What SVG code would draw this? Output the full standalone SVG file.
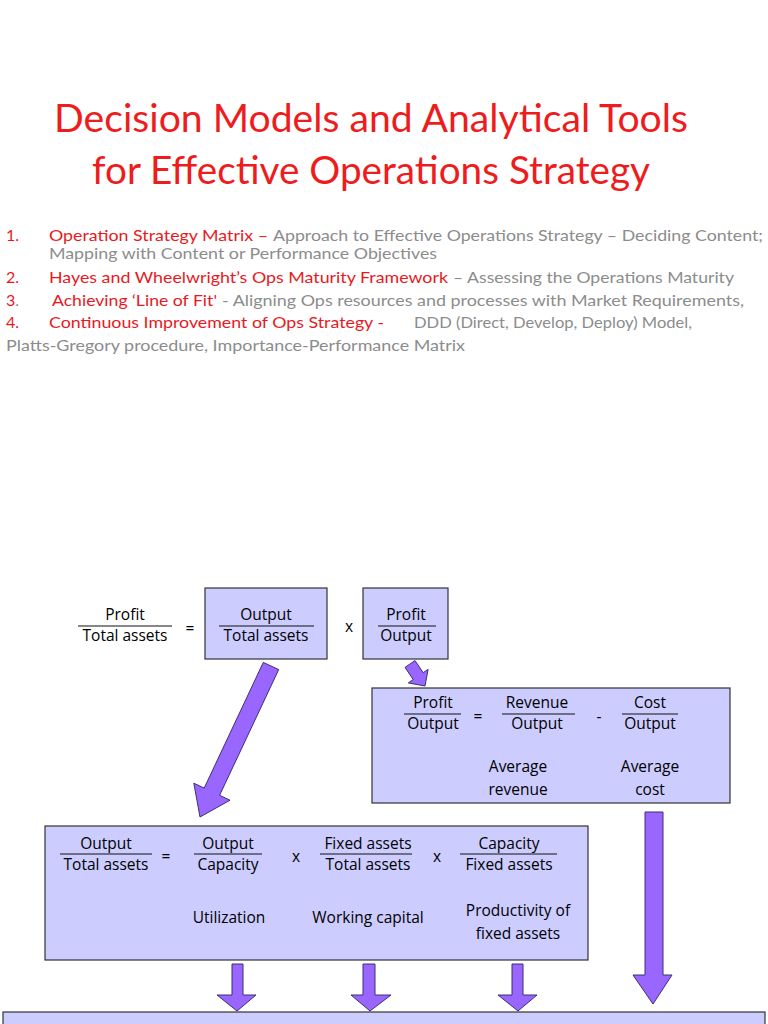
<svg xmlns="http://www.w3.org/2000/svg" width="768" height="1024" viewBox="0 0 768 1024">
<style>
.title{font-family:Lato,"Open Sans","Liberation Sans",sans-serif;font-size:38px;fill:#EE1C1C}
.li{font-family:Lato,"Open Sans","Liberation Sans",sans-serif;font-size:16px}
.red{fill:#E8191E}
.gray{fill:#8C8C8C}
.f{font-family:"Open Sans","DejaVu Sans",sans-serif;font-size:15.5px;fill:#000;text-anchor:middle}
.box{fill:#CCCCFF;stroke:#333;stroke-width:1.2}
.bar{stroke:#111;stroke-width:1.2}
.arrow{fill:#9966FF;stroke:#3d2f73;stroke-width:1;stroke-linejoin:miter}
</style>
<rect width="768" height="1024" fill="#fff"/>

<g id="title">
<text class="title" x="54" y="132" textLength="634" lengthAdjust="spacingAndGlyphs">Decision Models and Analytical Tools</text>
<text class="title" x="92" y="184" textLength="558" lengthAdjust="spacingAndGlyphs">for Effective Operations Strategy</text>
</g>

<g id="list">
<text class="li red" x="6" y="241">1.</text>
<text class="li red" x="49" y="241" textLength="219" lengthAdjust="spacingAndGlyphs">Operation Strategy Matrix –</text>
<text class="li gray" x="273" y="241" textLength="490" lengthAdjust="spacingAndGlyphs">Approach to Effective Operations Strategy – Deciding Content;</text>
<text class="li gray" x="49" y="259" textLength="388" lengthAdjust="spacingAndGlyphs">Mapping with Content or Performance Objectives</text>
<text class="li red" x="6" y="283">2.</text>
<text class="li red" x="49" y="283" textLength="399" lengthAdjust="spacingAndGlyphs">Hayes and Wheelwright’s Ops Maturity Framework</text>
<text class="li gray" x="453" y="283" textLength="281" lengthAdjust="spacingAndGlyphs">– Assessing the Operations Maturity</text>
<text class="li" x="6" y="306"><tspan class="red">3</tspan><tspan class="gray">.</tspan></text>
<text class="li red" x="52" y="306" textLength="165" lengthAdjust="spacingAndGlyphs">Achieving ‘Line of Fit'</text>
<text class="li gray" x="222" y="306" textLength="522" lengthAdjust="spacingAndGlyphs">- Aligning Ops resources and processes with Market Requirements,</text>
<text class="li red" x="6" y="328">4.</text>
<text class="li red" x="49" y="328" textLength="335" lengthAdjust="spacingAndGlyphs">Continuous Improvement of Ops Strategy -</text>
<text class="li gray" x="414" y="328" textLength="278" lengthAdjust="spacingAndGlyphs">DDD (Direct, Develop, Deploy) Model,</text>
<text class="li gray" x="6" y="351" textLength="459" lengthAdjust="spacingAndGlyphs">Platts-Gregory procedure, Importance-Performance Matrix</text>
</g>

<g id="roa">
<text class="f" x="125" y="620">Profit</text>
<line class="bar" x1="78" y1="626" x2="172" y2="626"/>
<text class="f" x="125" y="641">Total assets</text>
<text class="f" x="190" y="634">=</text>
</g>

<g id="box-output-assets">
<rect class="box" x="205" y="588" width="122" height="71"/>
<text class="f" x="266" y="620">Output</text>
<line class="bar" x1="219" y1="626" x2="314" y2="626"/>
<text class="f" x="266" y="641">Total assets</text>
</g>

<text class="f" x="349" y="632">x</text>

<g id="box-profit-output">
<rect class="box" x="363" y="588" width="85" height="71"/>
<text class="f" x="406" y="620">Profit</text>
<line class="bar" x1="378" y1="626" x2="436" y2="626"/>
<text class="f" x="406" y="641">Output</text>
</g>

<g id="box-margin">
<rect class="box" x="372" y="688" width="358" height="115"/>
<text class="f" x="433" y="708">Profit</text>
<line class="bar" x1="404" y1="714" x2="461" y2="714"/>
<text class="f" x="433" y="729">Output</text>
<text class="f" x="478" y="722">=</text>
<text class="f" x="537" y="708">Revenue</text>
<line class="bar" x1="502" y1="714" x2="575" y2="714"/>
<text class="f" x="537" y="729">Output</text>
<text class="f" x="599" y="722">-</text>
<text class="f" x="650" y="708">Cost</text>
<line class="bar" x1="622" y1="714" x2="678" y2="714"/>
<text class="f" x="650" y="729">Output</text>
<text class="f" x="518" y="772">Average</text>
<text class="f" x="518" y="795">revenue</text>
<text class="f" x="650" y="772">Average</text>
<text class="f" x="650" y="795">cost</text>
</g>

<g id="box-asset-turnover">
<rect class="box" x="45" y="826" width="543" height="134"/>
<text class="f" x="106" y="849">Output</text>
<line class="bar" x1="60" y1="854" x2="152" y2="854"/>
<text class="f" x="106" y="870">Total assets</text>
<text class="f" x="166" y="862">=</text>
<text class="f" x="228" y="849">Output</text>
<line class="bar" x1="194" y1="854" x2="262" y2="854"/>
<text class="f" x="228" y="870">Capacity</text>
<text class="f" x="296" y="862">x</text>
<text class="f" x="368" y="849">Fixed assets</text>
<line class="bar" x1="320" y1="854" x2="412" y2="854"/>
<text class="f" x="368" y="870">Total assets</text>
<text class="f" x="437" y="862">x</text>
<text class="f" x="509" y="849">Capacity</text>
<line class="bar" x1="460" y1="854" x2="557" y2="854"/>
<text class="f" x="509" y="870">Fixed assets</text>
<text class="f" x="229" y="923">Utilization</text>
<text class="f" x="368" y="923">Working capital</text>
<text class="f" x="518" y="916">Productivity of</text>
<text class="f" x="518" y="939">fixed assets</text>
</g>

<g id="box-bottom">
<rect class="box" x="3" y="1012" width="762" height="30"/>
</g>

<g id="connectors">
<polygon class="arrow" points="263.3,662.4 278.7,669.6 219.6,795.3 230,800.2 200,817 193.8,783.2 204.2,788.1"/>
<polygon class="arrow" points="405,667.4 415,660.6 423.2,672.7 428.1,669.3 425,686 408.3,682.9 413.2,679.5"/>
<polygon class="arrow" points="645,812 663,812 663,975 672,975 653,1004 633,975 645,975"/>
<polygon class="arrow" points="232,964 243,964 243,995 256,995 237,1011 217,995 232,995"/>
<polygon class="arrow" points="363,964 375,964 375,995 391,995 370,1011 351,995 363,995"/>
<polygon class="arrow" points="512,964 523,964 523,995 537,995 518,1011 498,995 512,995"/>
</g>
</svg>
